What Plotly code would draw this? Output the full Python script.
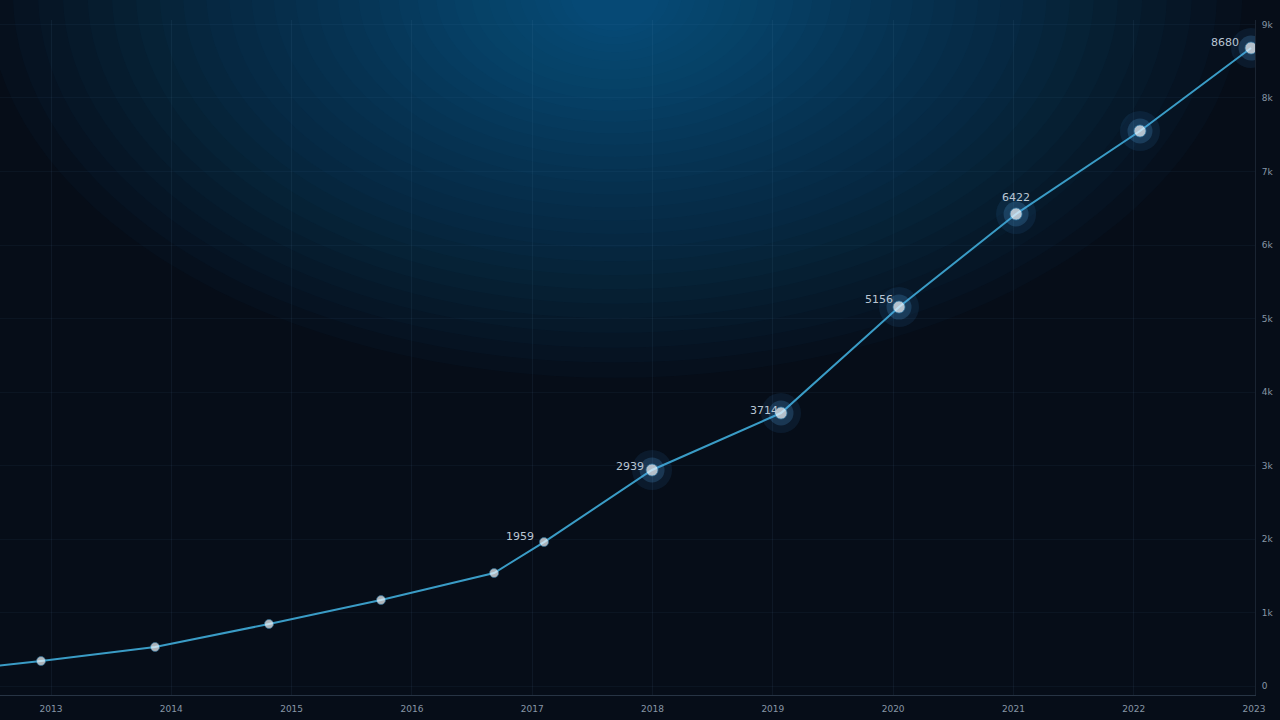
import plotly.graph_objects as go

# ---- data ----
years = [2012.917, 2013.865, 2014.812, 2015.743, 2016.683, 2017.098,
         2017.996, 2019.068, 2020.049, 2021.022, 2022.052, 2022.975]
values = [340, 531, 844, 1170, 1537, 1959, 2939, 3714, 5156, 6422, 7551, 8680]
lead_year = [2012.3]
lead_value = [230]
glow_idx = [6, 7, 8, 9, 10, 11]
label_idx = [5, 6, 7, 8, 9, 11]
x_ticks = list(range(2013, 2024))
x_tick_text = [str(y) for y in x_ticks]
y_ticks = list(range(0, 10000, 1000))
y_tick_text = ["0"] + [f"{v // 1000}k" for v in y_ticks[1:]]

fig = go.Figure()

# background glow (decoration), smoother falloff
shapes = []
n = 30
for i in range(n):
    f = (1 - i / n) ** 1.3
    rx = 0.03 + 0.47 * f
    ry = 0.05 + 0.52 * f
    cx, cy = 0.49, 1.04
    shapes.append(dict(type="circle", xref="paper", yref="paper",
                       x0=cx - rx, x1=cx + rx, y0=cy - ry, y1=cy + ry,
                       fillcolor="rgba(18,118,182,0.03)", line=dict(width=0),
                       layer="below"))

# line (with lead-in from the left edge)
fig.add_trace(go.Scatter(x=lead_year + years, y=lead_value + values, mode="lines",
                         line=dict(color="#3a9cc6", width=2), hoverinfo="skip",
                         showlegend=False))
# glow halos
gx = [years[i] for i in glow_idx]
gy = [values[i] for i in glow_idx]
fig.add_trace(go.Scatter(x=gx, y=gy, mode="markers",
                         marker=dict(size=40, color="rgba(60,150,225,0.10)", line=dict(width=0)),
                         hoverinfo="skip", showlegend=False))
fig.add_trace(go.Scatter(x=gx, y=gy, mode="markers",
                         marker=dict(size=25, color="rgba(90,175,240,0.20)", line=dict(width=0)),
                         hoverinfo="skip", showlegend=False))
# points
sizes = [9] * 6 + [12] * 6
fig.add_trace(go.Scatter(x=years, y=values, mode="markers",
                         marker=dict(size=sizes, color="#f6fbff",
                                     line=dict(color="rgba(60,150,200,0.7)", width=1)),
                         showlegend=False))

offsets = {5: (-24, 6), 6: (-22, 4), 7: (-17, 3), 8: (-20, 8), 9: (0, 16), 11: (-26, 6)}
annotations = []
for i in label_idx:
    dx, dy = offsets[i]
    annotations.append(dict(x=years[i], y=values[i], text=f"{values[i]}", showarrow=False,
                            xshift=dx, yshift=dy,
                            font=dict(family="DejaVu Sans", size=11, color="#b9c6d3")))

fig.update_layout(
    width=1280, height=720,
    margin=dict(l=0, r=25, t=20, b=25, autoexpand=False),
    paper_bgcolor="#060d18",
    plot_bgcolor="rgba(0,0,0,0)",
    shapes=shapes,
    annotations=annotations,
    xaxis=dict(range=[2012.576, 2023.008], tickvals=x_ticks, ticktext=x_tick_text,
               showgrid=True, gridcolor="rgba(110,160,210,0.08)", gridwidth=1,
               zeroline=False, showline=True, linecolor="rgba(140,170,200,0.25)",
               ticks="outside", ticklen=5, tickcolor="rgba(0,0,0,0)",
               tickfont=dict(family="DejaVu Sans", size=9, color="#8796a6")),
    yaxis=dict(range=[-122, 9061], tickvals=y_ticks, ticktext=y_tick_text, side="right",
               showgrid=True, gridcolor="rgba(110,160,210,0.06)", gridwidth=1,
               zeroline=False, showline=True, linecolor="rgba(140,170,200,0.15)",
               ticks="outside", ticklen=4, tickcolor="rgba(0,0,0,0)",
               tickfont=dict(family="DejaVu Sans", size=9, color="#8796a6")),
)

fig.write_html("out.html", config={"displayModeBar": False},
               post_script="document.body.style.margin='0';document.body.style.overflow='hidden';")
